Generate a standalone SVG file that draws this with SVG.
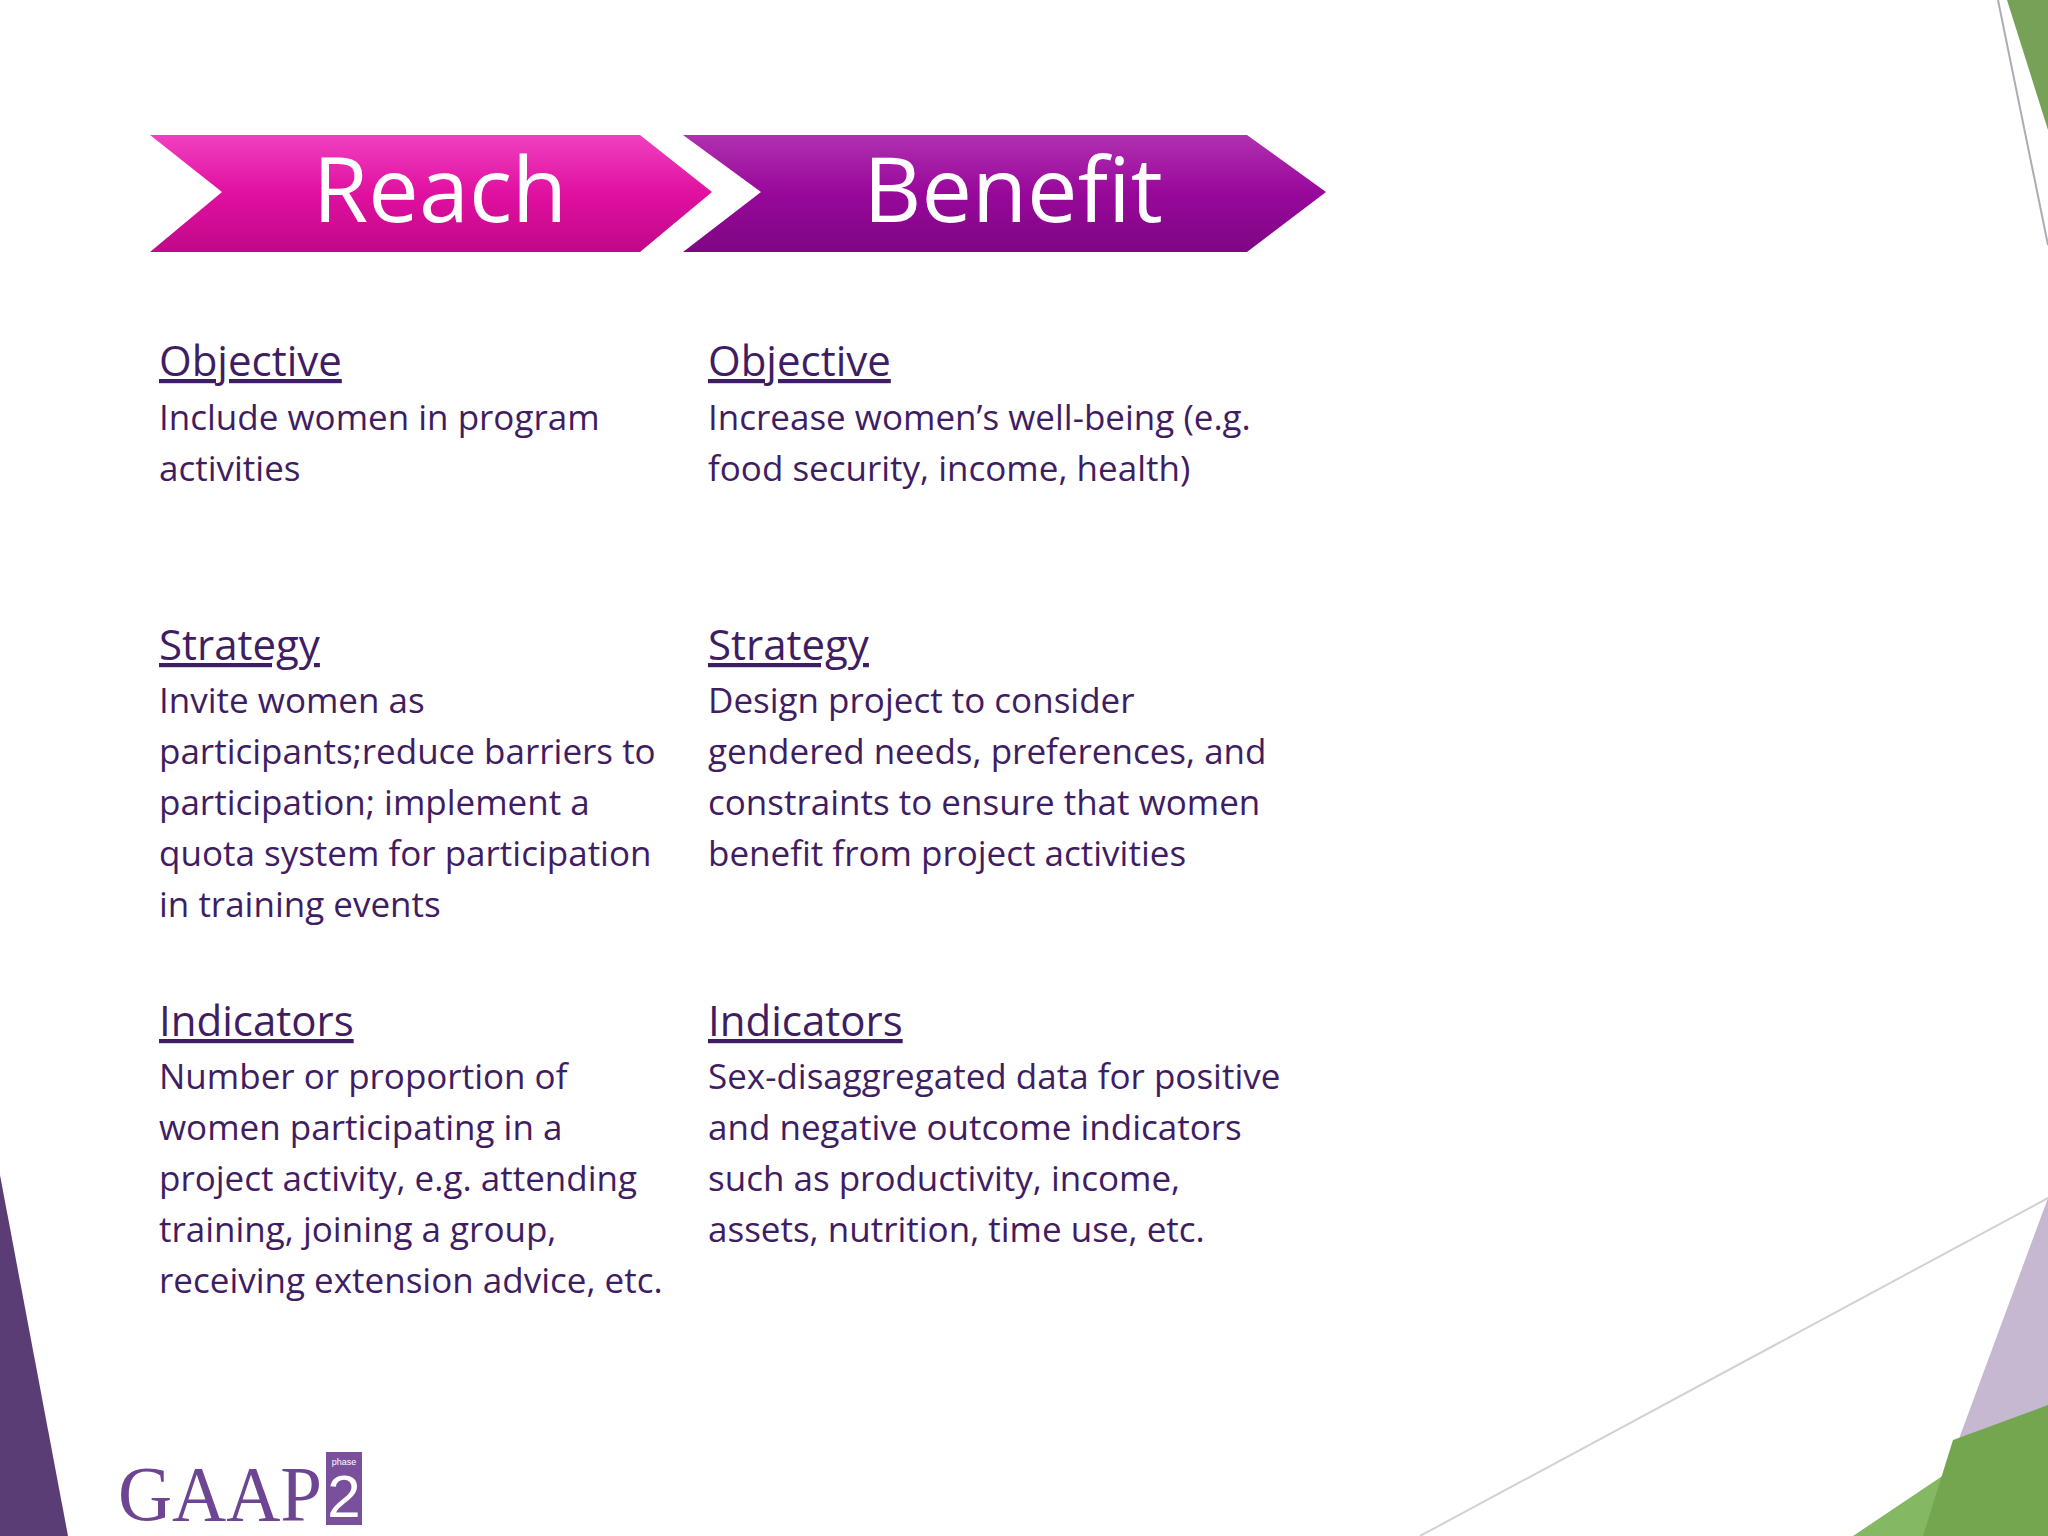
<svg xmlns="http://www.w3.org/2000/svg" width="2048" height="1536" viewBox="0 0 2048 1536">
<style>
.h{font-family:"Open Sans","Noto Sans",sans-serif;font-size:42px;fill:#3f1d63;text-decoration:underline}
.b{font-family:"Open Sans","Noto Sans",sans-serif;font-size:35px;fill:#3f1d63}
.t{font-family:"Open Sans","Noto Sans",sans-serif;font-size:90px;fill:#fff;text-anchor:middle}
</style>
<defs>
<linearGradient id="gp" x1="0" y1="0" x2="0" y2="1"><stop offset="0" stop-color="#f040c0"/><stop offset="0.5" stop-color="#e010a0"/><stop offset="1" stop-color="#c00888"/></linearGradient>
<linearGradient id="gv" x1="0" y1="0" x2="0" y2="1"><stop offset="0" stop-color="#b030b0"/><stop offset="0.5" stop-color="#98089a"/><stop offset="1" stop-color="#7e0684"/></linearGradient>
</defs>
<rect width="2048" height="1536" fill="#fff"/>
<polygon points="0,1175 68,1536 0,1536" fill="#5b3d76"/>
<polygon points="2048,1198 2048,1536 1923,1536" fill="#c6b8d0"/>
<polygon points="2048,1405 2048,1536 1853,1536" fill="#84b862"/>
<polygon points="2048,1405 2048,1536 1923,1536 1953,1440" fill="#74a650"/>
<line x1="2048" y1="1198" x2="1420" y2="1536" stroke="#d4d0d8" stroke-width="2"/>
<polygon points="2007,0 2048,0 2048,130" fill="#76a157"/>
<line x1="1998" y1="0" x2="2048" y2="245" stroke="#b0aab4" stroke-width="2"/>
<g id="reach"><polygon points="150,135 640,135 712,192 640,252 150,252 222,192" fill="url(#gp)"/><text class="t" x="440" y="222">Reach</text></g>
<g id="benefit"><polygon points="683,135 1247,135 1326,192 1247,252 683,252 761,192" fill="url(#gv)"/><text class="t" x="1013" y="222">Benefit</text></g>
<g id="reach-text">
<text class="h" x="159" y="376">Objective</text>
<text class="b" x="159" y="430">Include women in program</text>
<text class="b" x="159" y="481">activities</text>
<text class="h" x="159" y="660">Strategy</text>
<text class="b" x="159" y="713">Invite women as</text>
<text class="b" x="159" y="764">participants;reduce barriers to</text>
<text class="b" x="159" y="815">participation; implement a</text>
<text class="b" x="159" y="866">quota system for participation</text>
<text class="b" x="159" y="917">in training events</text>
<text class="h" x="159" y="1036">Indicators</text>
<text class="b" x="159" y="1089">Number or proportion of</text>
<text class="b" x="159" y="1140">women participating in a</text>
<text class="b" x="159" y="1191">project activity, e.g. attending</text>
<text class="b" x="159" y="1242">training, joining a group,</text>
<text class="b" x="159" y="1293">receiving extension advice, etc.</text>
</g>
<g id="benefit-text">
<text class="h" x="708" y="376">Objective</text>
<text class="b" x="708" y="430">Increase women’s well-being (e.g.</text>
<text class="b" x="708" y="481">food security, income, health)</text>
<text class="h" x="708" y="660">Strategy</text>
<text class="b" x="708" y="713">Design project to consider</text>
<text class="b" x="708" y="764">gendered needs, preferences, and</text>
<text class="b" x="708" y="815">constraints to ensure that women</text>
<text class="b" x="708" y="866">benefit from project activities</text>
<text class="h" x="708" y="1036">Indicators</text>
<text class="b" x="708" y="1089">Sex-disaggregated data for positive</text>
<text class="b" x="708" y="1140">and negative outcome indicators</text>
<text class="b" x="708" y="1191">such as productivity, income,</text>
<text class="b" x="708" y="1242">assets, nutrition, time use, etc.</text>
</g>
<g id="logo">
<text x="118" y="1520" font-family="Liberation Serif,serif" font-size="78" fill="#6e4592" textLength="204" lengthAdjust="spacingAndGlyphs">GAAP</text>
<rect x="326" y="1452" width="36" height="73" fill="#7a4f9c"/>
<text x="344" y="1517" font-family="Liberation Sans,sans-serif" font-size="60" fill="#fff" text-anchor="middle">2</text>
<text x="344" y="1465" font-family="Liberation Sans,sans-serif" font-size="9" fill="#fff" text-anchor="middle">phase</text>
</g>
</svg>
